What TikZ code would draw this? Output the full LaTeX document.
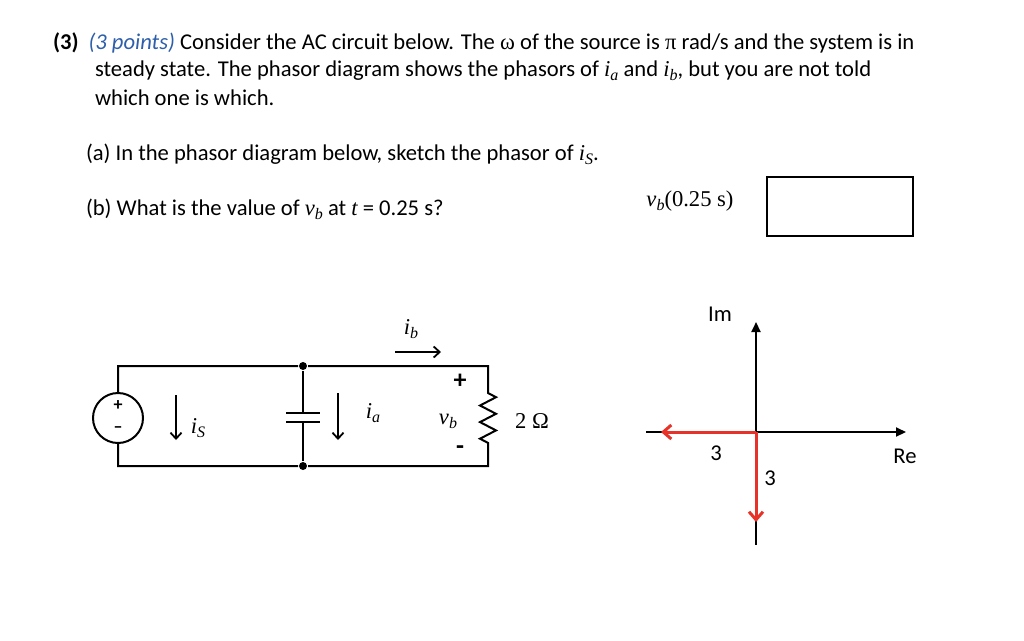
\documentclass[tikz,border=0pt]{standalone}
\usepackage{fontspec}
\setmainfont{Carlito}
\newfontfamily\mfont{Liberation Serif}
\newcommand{\mv}[1]{{\mfont\itshape #1}}
\newcommand{\ms}[2]{{\mfont\itshape #1\raisebox{-4pt}{\fontsize{16}{16}\selectfont #2}}}
\usetikzlibrary{arrows.meta}
\definecolor{pblue}{RGB}{45,95,170}
\definecolor{pred}{RGB}{230,50,40}
\begin{document}
\begin{tikzpicture}[x=1pt,y=-1pt,line width=2pt,
  txt/.style={anchor=west,inner sep=0pt,font=\fontsize{22.6}{27}\selectfont},
  lbl/.style={inner sep=0pt,font=\fontsize{22.6}{27}\selectfont},
  cur/.style={-{Straight Barb[length=6pt,width=11pt]},line width=1.8pt},
  ax/.style={-{Triangle[length=10pt,width=9pt]},line width=2pt},
  ph/.style={-{Straight Barb[length=8pt,width=14pt]},pred,line width=3pt},
  dot/.style={circle,fill,inner sep=0pt,minimum size=8pt}]
\useasboundingbox (0,0) rectangle (1024,640);
\node[txt] (l1) at (52,43) {\textbf{(3)}\hspace{10pt}{\color{pblue}\itshape (3 points)} Consider the AC circuit below. The {\mfont ω} of the source is {\mfont π} rad/s and the system is in};
\node[txt] (l2) at (94,71) {steady state. The phasor diagram shows the phasors of \ms{i}{a} and \ms{i}{b}, but you are not told};
\node[txt] (l3) at (94,98) {which one is which.};
\node[txt] (qa) at (85,154) {(a) In the phasor diagram below, sketch the phasor of \ms{i}{S}.};
\node[txt] (qb) at (85,209) {(b) What is the value of \ms{v}{b} at \mv{t} = 0.25 s?};
\node[lbl] (vb) at (690,201) {\ms{v}{b}{\mfont(0.25 s)}};
\node[draw,line width=2pt,minimum width=146pt,minimum height=59pt,inner sep=0pt] (box) at (840,206.5) {};
% circuit
\coordinate (tl) at (118,366); \coordinate (bl) at (118,466);
\coordinate (tr) at (488,366); \coordinate (br) at (488,466);
\node[dot] (nt) at (303,366) {}; \node[dot] (nb) at (303,466) {};
\node[draw,circle,minimum size=50pt,inner sep=0pt,line width=2pt] (src) at (118,418) {};
\node[inner sep=0pt,font=\fontsize{18}{18}\selectfont\bfseries] (sp) at (118,406) {+};
\node[inner sep=0pt,font=\fontsize{18}{18}\selectfont\bfseries] (sm) at (118,430) {–};
\draw (src.north) -- (tl) -- (nt) -- (tr) -- (488,393)
  -- ++(8,4.2) -- ++(-16,8.3) -- ++(16,8.3) -- ++(-16,8.3) -- ++(16,8.3) -- ++(-16,8.3) -- ++(8,4.2)
  -- (br) -- (nb) -- (bl) -- (src.south);
\draw (nt) -- (303,412.5); \draw (nb) -- (303,421.5);
\draw (286,412.5) -- (320,412.5); \draw (286,421.5) -- (320,421.5);
\coordinate (is1) at (176,395); \coordinate (is2) at (176,440);
\draw[cur] (is1) -- (is2); \node[lbl] (isl) at (198,428) {\ms{i}{S}};
\coordinate (ia1) at (338,393); \coordinate (ia2) at (338,440);
\draw[cur] (ia1) -- (ia2); \node[lbl] (ial) at (373,413) {\ms{i}{a}};
\coordinate (ib1) at (395,352); \coordinate (ib2) at (441,352);
\draw[cur] (ib1) -- (ib2); \node[lbl] (ibl) at (411,329) {\ms{i}{b}};
\node[inner sep=0pt,font=\fontsize{26}{26}\selectfont\bfseries] (vp) at (460,381) {+};
\node[lbl] (vbl) at (448,421) {\ms{v}{b}};
\node[inner sep=0pt,font=\fontsize{26}{26}\selectfont\bfseries] (vm) at (460,450) {-};
\node[lbl] (r) at (532,421) {{\mfont 2 Ω}};
% phasor
\coordinate (o) at (756,432);
\coordinate (up) at (756,322); \coordinate (dn) at (756,545);
\coordinate (lf) at (646,432); \coordinate (rt) at (906,432);
\draw (o) -- (dn);
\draw[ax] (o) -- (up);
\draw (lf) -- (o);
\draw[ax] (o) -- (rt);
\coordinate (pl) at (661,432); \coordinate (pd) at (756,522);
\draw[ph] (o) -- (pl);
\draw[ph] (o) -- (pd);
\node[lbl] (t1) at (716,453) {3};
\node[lbl] (t2) at (770,478) {3};
\node[lbl] (re) at (905,456) {Re};
\node[lbl] (im) at (720,314) {Im};
\end{tikzpicture}
\end{document}
